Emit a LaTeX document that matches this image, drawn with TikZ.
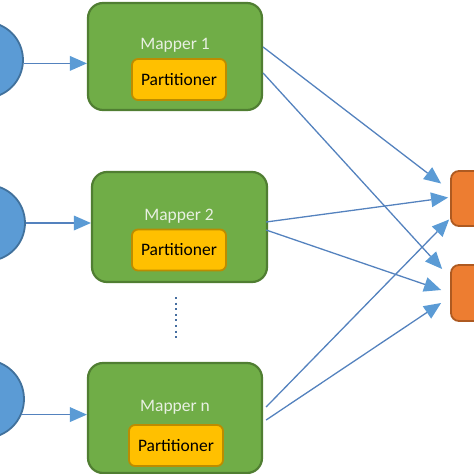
\documentclass[tikz,border=0pt]{standalone}
\usepackage{fontspec}
\setmainfont{Carlito}
\usetikzlibrary{arrows.meta,calc}
\definecolor{inblue}{RGB}{91,155,213}
\definecolor{inblueb}{RGB}{65,113,156}
\definecolor{mgreen}{RGB}{112,173,71}
\definecolor{mgreenb}{RGB}{80,126,50}
\definecolor{pyel}{RGB}{255,192,0}
\definecolor{pyelb}{RGB}{188,140,0}
\definecolor{rorange}{RGB}{237,125,49}
\definecolor{rorangeb}{RGB}{174,90,33}
\definecolor{lineblue}{RGB}{84,130,190}
\definecolor{mtext}{RGB}{232,240,226}
\definecolor{dotcol}{RGB}{70,110,160}
\tikzset{
  inputc/.style={circle,fill=inblue,draw=inblueb,line width=1.8pt,inner sep=0pt},
  mapperbox/.style={rectangle,rounded corners=15pt,fill=mgreen,draw=mgreenb,line width=2.2pt,inner sep=0pt},
  partbox/.style={rectangle,rounded corners=6pt,fill=pyel,draw=pyelb,line width=1.8pt,inner sep=0pt,minimum width=94pt,minimum height=41pt,font=\fontsize{17.5}{20}\selectfont,text=black},
  redbox/.style={rectangle,rounded corners=8pt,fill=rorange,draw=rorangeb,line width=1.8pt,inner sep=0pt,minimum width=48pt},
  mlabel/.style={font=\fontsize{17.5}{20}\selectfont,text=mtext,inner sep=0pt},
  flow/.style={draw=lineblue,line width=1.3pt,-{Triangle[length=17pt,width=15pt,line width=0pt,fill=inblue]}}
}
\begin{document}
\begin{tikzpicture}[x=1pt,y=-1pt]
\useasboundingbox (0,0) rectangle (474,474);
\clip (0,0) rectangle (474,474);
% inputs
\node[inputc,minimum size=76pt] (c1) at (-15,60) {};
\node[inputc,minimum size=76pt] (c2) at (-13,223) {};
\node[inputc,minimum size=78pt] (c3) at (-15,399) {};
% mappers
\node[mapperbox,minimum width=174pt,minimum height=107pt] (m1) at (175,56.5) {};
\node[mapperbox,minimum width=175pt,minimum height=110pt] (m2) at (179.5,227) {};
\node[mapperbox,minimum width=174pt,minimum height=110pt] (mn) at (175,418) {};
\node[mlabel] (l1) at (175,45) {Mapper 1};
\node[mlabel] (l2) at (179,216) {Mapper 2};
\node[mlabel] (ln) at (175,407) {Mapper n};
\node[partbox] (p1) at (179,79.5) {Partitioner};
\node[partbox] (p2) at (179,250) {Partitioner};
\node[partbox] (pn) at (176,445.5) {Partitioner};
% reducers
\node[redbox,minimum height=55pt] (r1) at (475,198.5) {};
\node[redbox,minimum height=56pt] (r2) at (475,293) {};
% dotted
\coordinate (d1) at (176,297);
\coordinate (d2) at (176,340);
\draw[dotcol,line width=2pt,dash pattern=on 2pt off 3.6pt] (d1) -- (d2);
% input arrows
\draw[flow] (c1.-5) -- (m1.west |- c1.-5);
\draw[flow] (c2.east) -- (m2.west |- c2.east);
\draw[flow] (c3.-23) -- (mn.west |- c3.-23);
% mapper to reducer arrows
\draw[flow] ([yshift=9.5pt]m1.east) -- ([shift={(-9pt,15pt)}]r1.west);
\draw[flow] ([yshift=-16.5pt]m1.east) -- ([shift={(-8pt,24pt)}]r2.west);
\draw[flow] ([shift={(-2pt,5pt)}]m2.east) -- ([shift={(-2pt,1pt)}]r1.west);
\draw[flow] ([shift={(-2pt,-3pt)}]m2.east) -- ([shift={(-9pt,3pt)}]r2.west);
\draw[flow] ([shift={(3pt,11pt)}]mn.east) -- ([shift={(-1pt,-21pt)}]r1.west);
\draw[flow] ([shift={(3pt,-2pt)}]mn.east) -- ([shift={(-9pt,-10pt)}]r2.west);
\end{tikzpicture}
\end{document}
